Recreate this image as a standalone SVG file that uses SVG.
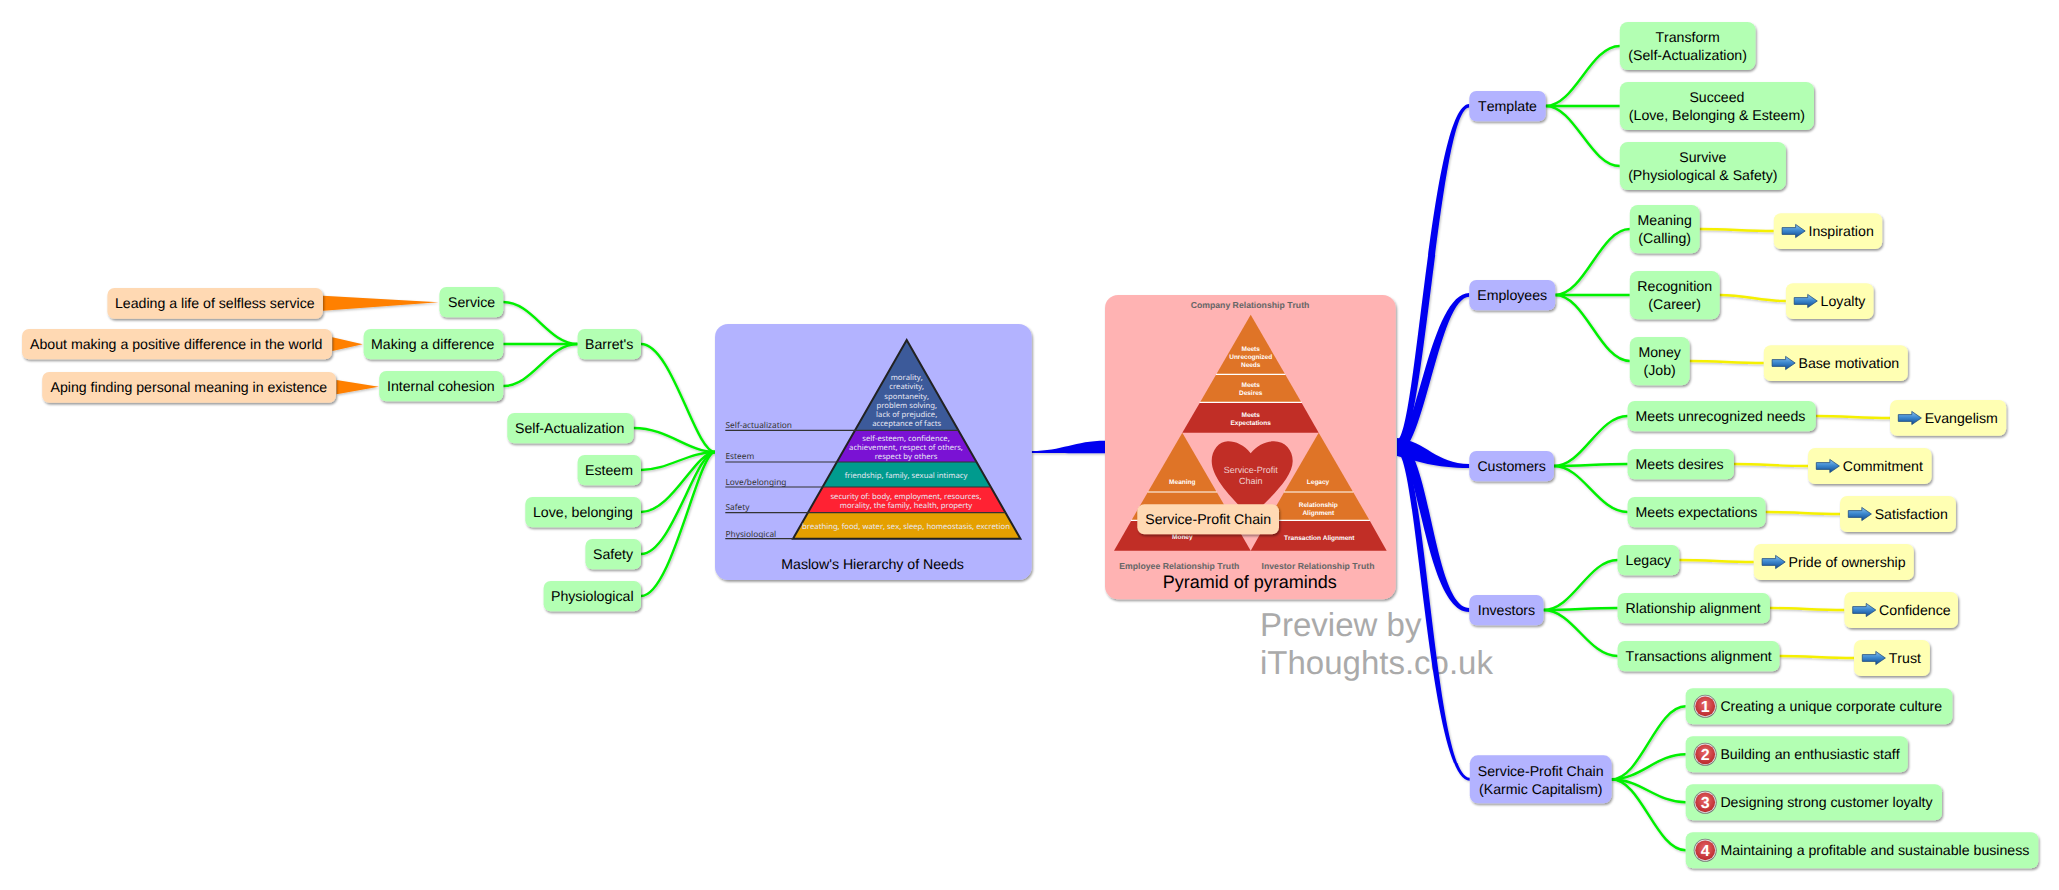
<svg xmlns="http://www.w3.org/2000/svg" xmlns:xlink="http://www.w3.org/1999/xlink" width="2059" height="890" viewBox="0 0 2059 890">
<style>
text{font-family:"Liberation Sans",Arial,sans-serif;font-size:14.15px;fill:#000;font-kerning:none;text-rendering:geometricPrecision}
.c{text-anchor:middle}
.box{filter:url(#sh)}
.g{fill:#b3ffb3}.p{fill:#b3b3ff}.r{fill:#ffb3b3}.y{fill:#ffffb3}.o{fill:#ffd9b3}
.gl{fill:none;stroke:#00f000;stroke-width:2.4}
.yl{fill:none;stroke:#f5f000;stroke-width:2.4}
.bl{fill:#0000f0}
.wedge{fill:#ff8000}
.m{font-family:"Noto Sans",sans-serif;font-size:7.7px;fill:#e8e8f4;text-anchor:middle}
.ml{font-family:"Noto Sans",sans-serif;font-size:8.3px;fill:#333}
.w{font-size:6.5px;font-weight:bold;fill:#fff;text-anchor:middle}
.t{font-size:8.7px;font-weight:bold;fill:#666;text-anchor:middle}
.wm{font-size:33px;fill:#aaa}
.num{font-size:16px;font-weight:bold;fill:#fff;text-anchor:middle}
.wl{stroke:#fff;stroke-width:1.2}
.dl{stroke:#333;stroke-width:1.2}
</style>
<defs>
<filter id="sh" x="-10%" y="-20%" width="120%" height="150%"><feDropShadow dx="1.2" dy="1.8" stdDeviation="1.2" flood-color="#000" flood-opacity="0.4"/></filter>
<filter id="lsh" x="-5%" y="-5%" width="110%" height="110%"><feDropShadow dx="1" dy="1.2" stdDeviation="0.9" flood-color="#000" flood-opacity="0.25"/></filter>
<linearGradient id="ag" x1="0" y1="0" x2="0" y2="1"><stop offset="0" stop-color="#8cc4f0"/><stop offset="0.45" stop-color="#3f8ad0"/><stop offset="1" stop-color="#0f4a90"/></linearGradient>
<radialGradient id="bg" cx="0.5" cy="0.4" r="0.6"><stop offset="0" stop-color="#e8686a"/><stop offset="1" stop-color="#bb2a2e"/></radialGradient>
<symbol id="arrow" width="24" height="14" viewBox="0 0 24 14" overflow="visible"><path d="M0.5,3.6 H14 V0.4 L23.6,7 L14,13.6 V10.4 H0.5 Z" fill="url(#ag)" stroke="#123f77" stroke-width="0.7"/></symbol>
<g id="ring"><circle r="11.5" fill="#777"/><circle r="10.7" fill="#e0e0e0"/><circle r="9.9" fill="url(#bg)"/></g>
</defs>

<g id="watermark">
<text class="wm" x="1260" y="635.7">Preview by</text>
<text class="wm" x="1260" y="674.3">iThoughts.co.uk</text>
</g>

<g id="connectors" filter="url(#lsh)">
<path class="bl" d="M1105,440.7 C1075,440.7 1062,451 1031.7,451 L1031.7,453 C1062,453 1075,453.3 1105,453.3 Z"/>
<path class="bl" d="M1397,440 C1416,440 1431,104 1469.3,104 L1469.3,107.5 C1439,107.5 1424,454 1397,454 Z"/>
<path class="bl" d="M1397,440 C1416,440 1431,293 1469.3,293 L1469.3,296.8 C1439,296.8 1424,454 1397,454 Z"/>
<path class="bl" d="M1397,438 C1426,441 1436,464 1469.3,464 L1469.3,468 C1434,468 1418,461 1397,456 Z"/>
<path class="bl" d="M1397,440 C1430,440 1433,608 1469.3,608 L1469.3,612 C1426,612 1419,454 1397,454 Z"/>
<path class="bl" d="M1397,442 C1426,442 1434,777.8 1469.8,777.8 L1469.8,780.8 C1429,780.8 1417,452 1397,452 Z"/>

<path class="gl" d="M715,452 C695,452 672,344 641,344"/>
<path class="gl" d="M715,452 C688,452 668,428 633.6,428"/>
<path class="gl" d="M715,452 C688,452 668,470 641,470"/>
<path class="gl" d="M715,452 C695,452 672,512 641,512"/>
<path class="gl" d="M715,452 C695,452 672,554 641,554"/>
<path class="gl" d="M715,452 C698,452 672,596 641,596"/>
<path class="gl" d="M577.6,344 C548,344 533,302 503.2,302"/>
<path class="gl" d="M577.6,344 H503.2"/>
<path class="gl" d="M577.6,344 C548,344 533,386 503.2,386"/>

<path class="gl" d="M1545.7,106 C1575,106 1590,46 1619.8,46"/>
<path class="gl" d="M1545.7,106 H1619.8"/>
<path class="gl" d="M1545.7,106 C1575,106 1590,166 1619.8,166"/>
<path class="gl" d="M1555.2,295 C1585,295 1600,229 1629.8,229"/>
<path class="gl" d="M1555.2,295 H1629.8"/>
<path class="gl" d="M1555.2,295 C1585,295 1600,361 1629.8,361"/>
<path class="gl" d="M1553.9,466 C1583,466 1598,416 1627.6,416"/>
<path class="gl" d="M1553.9,466 C1583,466 1598,464 1627.6,464"/>
<path class="gl" d="M1553.9,466 C1583,466 1598,512 1627.6,512"/>
<path class="gl" d="M1543.5,610 C1573,610 1588,560 1617.6,560"/>
<path class="gl" d="M1543.5,610 C1573,610 1588,608 1617.6,608"/>
<path class="gl" d="M1543.5,610 C1573,610 1588,656 1617.6,656"/>
<path class="gl" d="M1611.6,779.3 C1641,779.3 1656,706.3 1685.7,706.3"/>
<path class="gl" d="M1611.6,779.3 C1641,779.3 1656,754.3 1685.7,754.3"/>
<path class="gl" d="M1611.6,779.3 C1641,779.3 1656,802.3 1685.7,802.3"/>
<path class="gl" d="M1611.6,779.3 C1641,779.3 1656,850.3 1685.7,850.3"/>

<path class="yl" d="M1699.6,229 C1729,229 1744,231 1773.8,231"/>
<path class="yl" d="M1719.6,295 C1746,295 1760,301 1785.9,301"/>
<path class="yl" d="M1689.6,361 C1719,361 1734,363 1763.8,363"/>
<path class="yl" d="M1815.8,416 C1845,416 1860,418 1890,418"/>
<path class="yl" d="M1733.9,464 C1763,464 1778,466 1808,466"/>
<path class="yl" d="M1765.5,512 C1795,512 1810,514 1840,514"/>
<path class="yl" d="M1679.2,560 C1709,560 1724,562 1753.8,562"/>
<path class="yl" d="M1769.9,608 C1799,608 1814,610 1844.4,610"/>
<path class="yl" d="M1779.4,656 C1809,656 1824,658 1854,658"/>

<path class="wedge" d="M323,295.7 L438.5,302.3 L323,310.7 Z"/>
<path class="wedge" d="M332.4,337.3 L362.7,344.3 L332.4,351 Z"/>
<path class="wedge" d="M336.5,380 L378.8,386.7 L336.5,394.3 Z"/>
</g>

<g id="n-leading"><rect class="box o" x="107.4" y="288" width="215.4" height="30.7" rx="7"/><text x="115" y="308">Leading a life of selfless service</text></g>
<g id="n-about"><rect class="box o" x="22" y="329" width="310" height="30.3" rx="7"/><text x="30" y="349">About making a positive difference in the world</text></g>
<g id="n-aping"><rect class="box o" x="42.2" y="372" width="293.8" height="30.7" rx="7"/><text x="50.5" y="392">Aping finding personal meaning in existence</text></g>
<g id="n-service"><rect class="box g" x="439.4" y="287" width="63.8" height="30.3" rx="7"/><text x="448" y="307">Service</text></g>
<g id="n-making"><rect class="box g" x="363.6" y="329" width="139.6" height="30.3" rx="7"/><text x="371" y="349">Making a difference</text></g>
<g id="n-internal"><rect class="box g" x="379.2" y="371" width="124" height="30.3" rx="7"/><text x="387" y="391">Internal cohesion</text></g>
<g id="n-barrets"><rect class="box g" x="577.6" y="329" width="63.4" height="30.3" rx="7"/><text x="585" y="349">Barret's</text></g>
<g id="n-selfact"><rect class="box g" x="507.3" y="413" width="126.3" height="30.3" rx="7"/><text x="515" y="433">Self-Actualization</text></g>
<g id="n-esteem"><rect class="box g" x="577.6" y="455" width="63.4" height="30.3" rx="7"/><text x="585" y="475">Esteem</text></g>
<g id="n-love"><rect class="box g" x="525.3" y="497" width="115.7" height="30.3" rx="7"/><text x="533" y="517">Love, belonging</text></g>
<g id="n-safety"><rect class="box g" x="585.4" y="539" width="55.6" height="30.3" rx="7"/><text x="593" y="559">Safety</text></g>
<g id="n-physio"><rect class="box g" x="543.6" y="581" width="97.4" height="30.3" rx="7"/><text x="551" y="601">Physiological</text></g>

<g id="n-maslow">
<rect class="box p" x="715" y="324" width="316.7" height="256" rx="13"/>
<polygon points="906.7,340 958.4,430.3 855,430.3" fill="#3c5a9a"/>
<polygon points="855,430.3 958.4,430.3 976.5,462 836.9,462" fill="#7a12d4"/>
<polygon points="836.9,462 976.5,462 990.9,487 822.5,487" fill="#009b8e"/>
<polygon points="822.5,487 990.9,487 1005.6,512.7 807.8,512.7" fill="#ff2233"/>
<polygon points="807.8,512.7 1005.6,512.7 1020.4,538.7 793,538.7" fill="#e5a000"/>
<polygon points="906.7,340 1020.4,538.7 793,538.7" fill="none" stroke="#222" stroke-width="2" stroke-linejoin="miter"/>
<path class="dl" fill="none" d="M725.3,430.3 H958.4 M725.3,462 H976.5 M725.3,487 H990.9 M725.3,512.7 H1005.6 M725.3,538.7 H793"/>
<text class="ml" x="725.5" y="427.5">Self-actualization</text>
<text class="ml" x="725.5" y="459">Esteem</text>
<text class="ml" x="725.5" y="484.5">Love/belonging</text>
<text class="ml" x="725.5" y="510">Safety</text>
<text class="ml" x="725.5" y="537">Physiological</text>
<text class="m" x="906.7" y="380">morality,</text>
<text class="m" x="906.7" y="389.3">creativity,</text>
<text class="m" x="906.7" y="398.7">spontaneity,</text>
<text class="m" x="906.7" y="407.7">problem solving,</text>
<text class="m" x="906.7" y="417">lack of prejudice,</text>
<text class="m" x="906.7" y="426.3">acceptance of facts</text>
<text class="m" x="906" y="440.7">self-esteem, confidence,</text>
<text class="m" x="906" y="449.7">achievement, respect of others,</text>
<text class="m" x="906" y="459">respect by others</text>
<text class="m" x="906" y="478">friendship, family, sexual intimacy</text>
<text class="m" x="906" y="499">security of: body, employment, resources,</text>
<text class="m" x="906" y="508.3">morality, the family, health, property</text>
<text class="m" x="906" y="529">breathing, food, water, sex, sleep, homeostasis, excretion</text>
<text class="c" x="872.6" y="569">Maslow's Hierarchy of Needs</text>
</g>

<g id="n-pyramid">
<rect class="box r" x="1105" y="295" width="290.7" height="304.3" rx="13"/>
<polygon points="1250.7,314.7 1285.1,374.3 1216.3,374.3" fill="#df7427"/>
<polygon points="1216.3,374.3 1285.1,374.3 1301.3,402.3 1200.1,402.3" fill="#df7427"/>
<polygon points="1200.1,402.3 1301.3,402.3 1318.7,432.7 1182.3,432.7" fill="#c12e26"/>
<polygon points="1182.3,432.7 1216.7,492 1147.9,492" fill="#df7427"/>
<polygon points="1147.9,492 1216.7,492 1233.1,520.3 1131.5,520.3" fill="#df7427"/>
<polygon points="1131.5,520.3 1233.1,520.3 1250.7,550.7 1114,550.7" fill="#c12e26"/>
<polygon points="1318.7,432.7 1353.1,492 1284.3,492" fill="#df7427"/>
<polygon points="1284.3,492 1353.1,492 1369.5,520.3 1267.9,520.3" fill="#df7427"/>
<polygon points="1267.9,520.3 1369.5,520.3 1386.7,550.7 1250.7,550.7" fill="#c12e26"/>
<path class="wl" d="M1216,374.3 H1285.4 M1199.5,402.3 H1301.9 M1147.6,492 H1217 M1131,520.3 H1233.4 M1284,492 H1353.4 M1267.5,520.3 H1369.9"/>
<path d="M1250.7,453.3 C1257,445 1266,441.3 1274,441.3 C1285,441.3 1292.7,450 1292.7,461 C1292.7,478 1270,498 1250.7,517 C1231.4,498 1211.7,478 1211.7,461 C1211.7,450 1219,441.3 1228,441.3 C1236,441.3 1244,445 1250.7,453.3 Z" fill="#c12e26"/>
<text class="t" x="1250" y="308">Company Relationship Truth</text>
<text class="t" x="1179.3" y="569">Employee Relationship Truth</text>
<text class="t" x="1318" y="569">Investor Relationship Truth</text>
<text class="w" x="1250.7" y="350.8">Meets</text>
<text class="w" x="1250.7" y="358.8">Unrecognized</text>
<text class="w" x="1250.7" y="366.8">Needs</text>
<text class="w" x="1250.7" y="387.2">Meets</text>
<text class="w" x="1250.7" y="395.2">Desires</text>
<text class="w" x="1250.7" y="416.8">Meets</text>
<text class="w" x="1250.7" y="424.8">Expectations</text>
<text class="w" x="1182.3" y="483.8">Meaning</text>
<text class="w" x="1182.3" y="538.8">Money</text>
<text class="w" x="1318" y="483.8">Legacy</text>
<text class="w" x="1318.3" y="506.8">Relationship</text>
<text class="w" x="1318.3" y="514.8">Alignment</text>
<text class="w" x="1319.3" y="539.5">Transaction Alignment</text>
<text x="1250.7" y="472.7" class="c" style="font-size:9px;fill:#f0d0d0">Service-Profit</text>
<text x="1250.7" y="484" class="c" style="font-size:9px;fill:#f0d0d0">Chain</text>
<text class="c" x="1249.7" y="587.5" style="font-size:18px">Pyramid of pyraminds</text>
<rect class="box o" x="1137.3" y="504.3" width="141.7" height="30" rx="7"/>
<text class="c" x="1208.2" y="524.3">Service-Profit Chain</text>
</g>

<g id="n-template"><rect class="box p" x="1469.3" y="91" width="76.4" height="30.3" rx="7"/><text class="c" x="1507.5" y="111">Template</text></g>
<g id="n-transform"><rect class="box g" x="1619.8" y="22" width="135.7" height="48" rx="8"/><text class="c" x="1687.6" y="42.3">Transform</text><text class="c" x="1687.6" y="60.3">(Self-Actualization)</text></g>
<g id="n-succeed"><rect class="box g" x="1619.8" y="82" width="194.2" height="48" rx="8"/><text class="c" x="1716.9" y="102.3">Succeed</text><text class="c" x="1716.9" y="120.3">(Love, Belonging &amp; Esteem)</text></g>
<g id="n-survive"><rect class="box g" x="1619.8" y="142" width="166.1" height="48" rx="8"/><text class="c" x="1702.8" y="162.3">Survive</text><text class="c" x="1702.8" y="180.3">(Physiological &amp; Safety)</text></g>

<g id="n-employees"><rect class="box p" x="1469.3" y="280" width="85.9" height="30.3" rx="7"/><text class="c" x="1512.2" y="300">Employees</text></g>
<g id="n-meaning"><rect class="box g" x="1629.8" y="205" width="69.8" height="48.3" rx="8"/><text class="c" x="1664.7" y="225.3">Meaning</text><text class="c" x="1664.7" y="243.3">(Calling)</text></g>
<g id="n-recognition"><rect class="box g" x="1629.8" y="271" width="89.8" height="48.3" rx="8"/><text class="c" x="1674.7" y="291.3">Recognition</text><text class="c" x="1674.7" y="309.3">(Career)</text></g>
<g id="n-money"><rect class="box g" x="1629.8" y="337" width="59.8" height="48.3" rx="8"/><text class="c" x="1659.7" y="357.3">Money</text><text class="c" x="1659.7" y="375.3">(Job)</text></g>
<g id="n-inspiration"><rect class="box y" x="1773.8" y="213.3" width="108.4" height="35.7" rx="7"/><use href="#arrow" x="1781.6" y="224" width="24" height="14"/><text x="1808.5" y="236.2">Inspiration</text></g>
<g id="n-loyalty"><rect class="box y" x="1785.9" y="283.3" width="87.6" height="35.7" rx="7"/><use href="#arrow" x="1793.7" y="294" width="24" height="14"/><text x="1820.6" y="306.2">Loyalty</text></g>
<g id="n-base"><rect class="box y" x="1763.8" y="345.3" width="144" height="35.7" rx="7"/><use href="#arrow" x="1771.6" y="356" width="24" height="14"/><text x="1798.5" y="368.2">Base motivation</text></g>

<g id="n-customers"><rect class="box p" x="1469.3" y="451" width="84.6" height="30.3" rx="7"/><text class="c" x="1511.6" y="471">Customers</text></g>
<g id="n-unrec"><rect class="box g" x="1627.6" y="401" width="188.2" height="30.3" rx="7"/><text x="1635.6" y="421">Meets unrecognized needs</text></g>
<g id="n-desires"><rect class="box g" x="1627.6" y="449" width="106.3" height="30.3" rx="7"/><text x="1635.6" y="469">Meets desires</text></g>
<g id="n-expect"><rect class="box g" x="1627.6" y="497" width="137.9" height="30.3" rx="7"/><text x="1635.6" y="517">Meets expectations</text></g>
<g id="n-evangelism"><rect class="box y" x="1890" y="400" width="116.2" height="35.7" rx="7"/><use href="#arrow" x="1897.8" y="411" width="24" height="14"/><text x="1924.7" y="423">Evangelism</text></g>
<g id="n-commitment"><rect class="box y" x="1808" y="448" width="123.6" height="36" rx="7"/><use href="#arrow" x="1815.8" y="459" width="24" height="14"/><text x="1842.7" y="471">Commitment</text></g>
<g id="n-satisfaction"><rect class="box y" x="1840" y="496" width="115.9" height="36" rx="7"/><use href="#arrow" x="1847.8" y="507" width="24" height="14"/><text x="1874.7" y="519">Satisfaction</text></g>

<g id="n-investors"><rect class="box p" x="1469.3" y="595" width="74.2" height="30.3" rx="7"/><text class="c" x="1506.4" y="615">Investors</text></g>
<g id="n-legacy"><rect class="box g" x="1617.6" y="545" width="61.6" height="30.3" rx="7"/><text x="1625.6" y="565">Legacy</text></g>
<g id="n-rlationship"><rect class="box g" x="1617.6" y="593" width="152.3" height="30.3" rx="7"/><text x="1625.6" y="613">Rlationship alignment</text></g>
<g id="n-transactions"><rect class="box g" x="1617.6" y="641" width="161.8" height="30.3" rx="7"/><text x="1625.6" y="661">Transactions alignment</text></g>
<g id="n-pride"><rect class="box y" x="1753.8" y="544" width="160" height="36" rx="7"/><use href="#arrow" x="1761.6" y="555" width="24" height="14"/><text x="1788.5" y="567">Pride of ownership</text></g>
<g id="n-confidence"><rect class="box y" x="1844.4" y="592" width="113.6" height="36" rx="7"/><use href="#arrow" x="1852.2" y="603" width="24" height="14"/><text x="1879.1" y="615">Confidence</text></g>
<g id="n-trust"><rect class="box y" x="1854" y="640" width="75.9" height="36" rx="7"/><use href="#arrow" x="1861.8" y="651" width="24" height="14"/><text x="1888.7" y="663">Trust</text></g>

<g id="n-spc"><rect class="box p" x="1469.8" y="755.3" width="141.8" height="48" rx="8"/><text class="c" x="1540.7" y="775.6">Service-Profit Chain</text><text class="c" x="1540.7" y="793.6">(Karmic Capitalism)</text></g>
<g id="n-creating"><rect class="box g" x="1685.7" y="688.3" width="266.7" height="36" rx="7"/><use href="#ring" x="1705.2" y="706.3"/><text class="num" x="1705.2" y="712">1</text><text x="1720.4" y="711">Creating a unique corporate culture</text></g>
<g id="n-building"><rect class="box g" x="1685.7" y="736.3" width="222.1" height="36" rx="7"/><use href="#ring" x="1705.2" y="754.3"/><text class="num" x="1705.2" y="760">2</text><text x="1720.4" y="759">Building an enthusiastic staff</text></g>
<g id="n-designing"><rect class="box g" x="1685.7" y="784.3" width="256.3" height="36" rx="7"/><use href="#ring" x="1705.2" y="802.3"/><text class="num" x="1705.2" y="808">3</text><text x="1720.4" y="807">Designing strong customer loyalty</text></g>
<g id="n-maintaining"><rect class="box g" x="1685.7" y="832.3" width="352.6" height="36" rx="7"/><use href="#ring" x="1705.2" y="850.3"/><text class="num" x="1705.2" y="856">4</text><text x="1720.4" y="855">Maintaining a profitable and sustainable business</text></g>
</svg>
